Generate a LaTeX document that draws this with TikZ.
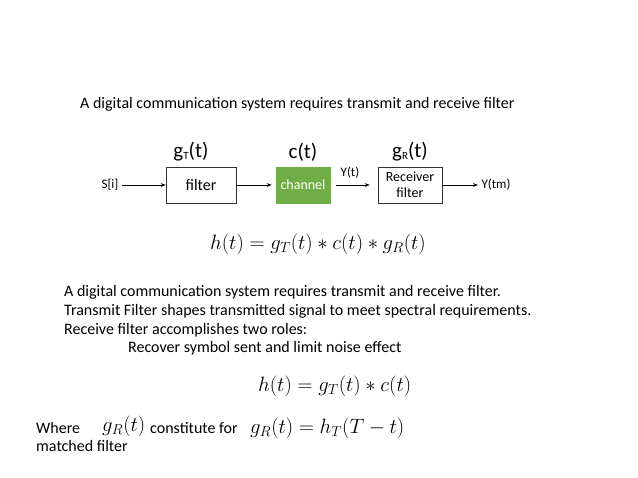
\documentclass[tikz,border=0pt]{standalone}
\usepackage{fontspec}
\setmainfont{Carlito}
\usetikzlibrary{arrows.meta}
\begin{document}
\begin{tikzpicture}[x=1pt,y=-1pt,
  box/.style={draw=black!80,line width=0.6pt,minimum width=70pt,minimum height=36pt,font=\fontsize{16}{17}\selectfont},
  arr/.style={-{Stealth[length=5pt]},line width=0.6pt},
  txt/.style={font=\fontsize{16}{18}\selectfont,anchor=west,inner sep=0},
  big/.style={font=\fontsize{21}{23}\selectfont},
  sml/.style={font=\fontsize{13}{14}\selectfont},
  eq/.style={font=\fontsize{22}{24}\selectfont,inner sep=0}]
\useasboundingbox (0,0) rectangle (638,478);
\node[txt] (t1) at (80,104) {A digital communication system requires transmit and receive filter};
\node[box] (f) at (201,185) {filter};
\node[box,minimum width=54pt,fill={rgb,255:red,112;green,173;blue,71},draw={rgb,255:red,112;green,173;blue,71},text=white,font=\fontsize{14}{15}\selectfont] (c) at (303,185) {channel};
\node[box,minimum width=64pt,align=center,font=\fontsize{14}{16}\selectfont,inner sep=1pt] (r) at (410,185) {Receiver\\filter};
\node[big] (lg) at (191,152) {g\raisebox{-0.15ex}{\fontsize{11}{12}\selectfont T}(t)};
\node[big] (lc) at (303,152) {c(t)};
\node[big] (lr) at (410,152) {g\raisebox{-0.15ex}{\fontsize{11}{12}\selectfont R}(t)};
\node[sml,anchor=east] (s) at (122,185) {S[i]};
\coordinate (o) at (478,185);
\node[sml,anchor=west] (y) at (478,185) {Y(tm)};
\draw[arr] (s) -- (f);
\draw[arr] (f) -- ([xshift=-4pt]c.west);
\draw[arr] ([xshift=6pt]c.east) -- ([xshift=-8pt]r.west);
\node[sml] (yt) at (350,173) {Y(t)};
\draw[arr] (r) -- (o);
\node[eq] (e1) at (318,244) {$h(t)=g_T(t)*c(t)*g_R(t)$};
\node[txt] (p1) at (64,292) {A digital communication system requires transmit and receive filter.};
\node[txt] (p2) at (64,311) {Transmit Filter shapes transmitted signal to meet spectral requirements.};
\node[txt] (p3) at (64,330) {Receive filter accomplishes two roles:};
\node[txt] (p4) at (128,348) {Recover symbol sent and limit noise effect};
\node[eq,anchor=west] (e2) at (258,386) {$h(t)=g_T(t)*c(t)$};
\node[txt] (w) at (36,428) {Where};
\node[eq,anchor=west] (g) at (102,426) {$g_R(t)$};
\node[txt] (ct) at (150,428) {constitute for};
\node[eq,anchor=west] (e3) at (250,428) {$g_R(t)=h_T(T-t)$};
\node[txt] (m) at (36,446) {matched filter};
\end{tikzpicture}
\end{document}
